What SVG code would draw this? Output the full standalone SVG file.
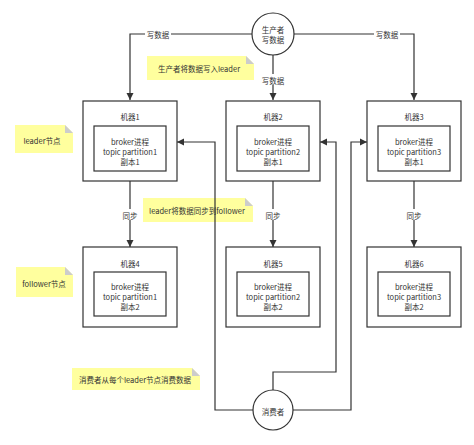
<svg xmlns="http://www.w3.org/2000/svg" width="474" height="445" viewBox="0 0 474 445">
<style>
text{font-family:"Noto Sans CJK SC","Liberation Sans",sans-serif;font-size:7.5px;fill:#333;text-anchor:middle;dominant-baseline:central}
.box{fill:#fff;stroke:#333;stroke-width:1.2}
.circ{fill:#fff;stroke:#333;stroke-width:1.2}
.ln{fill:none;stroke:#333;stroke-width:1.2}
.note{fill:#ffff9e}
.fold{fill:#ccc}
.lbl{fill:#fff}
</style>
<defs>
<marker id="arr" markerWidth="8" markerHeight="8" refX="7" refY="4" orient="auto" markerUnits="userSpaceOnUse">
<path d="M0,0.5 L7,4 L0,7.5 Z" fill="#333"/>
</marker>
</defs>
<g id="note-sync">
<path class="note" d="M143,198 H245 L253,206 V222 H143 Z"/>
<path class="fold" d="M245,198 L253,206 H245 Z"/>
<text x="197" y="210">leader将数据同步到follower</text>
</g>
<g id="connectors">
<path class="ln" d="M252,34 H130 V100" marker-end="url(#arr)"/>
<path class="ln" d="M294,34 H414 V100" marker-end="url(#arr)"/>
<path class="ln" d="M273,55 V100" marker-end="url(#arr)"/>
<path class="ln" d="M130,181 V247" marker-end="url(#arr)"/>
<path class="ln" d="M273,181 V247" marker-end="url(#arr)"/>
<path class="ln" d="M414,181 V247" marker-end="url(#arr)"/>
<path class="ln" d="M253,410 H215 V142 H177" marker-end="url(#arr)"/>
<path class="ln" d="M273,390 V372 H336 V142 H320" marker-end="url(#arr)"/>
<path class="ln" d="M293,410 H351 V142 H367" marker-end="url(#arr)"/>
<rect class="lbl" x="145" y="28" width="26" height="11"/>
<text x="158" y="34">写数据</text>
<rect class="lbl" x="374" y="28" width="26" height="11"/>
<text x="387" y="34">写数据</text>
<rect class="lbl" x="260" y="74" width="26" height="11"/>
<text x="273" y="80">写数据</text>
<rect class="lbl" x="120" y="209" width="20" height="11"/>
<text x="130" y="215">同步</text>
<rect class="lbl" x="263" y="209" width="20" height="11"/>
<text x="273" y="215">同步</text>
<rect class="lbl" x="404" y="209" width="20" height="11"/>
<text x="414" y="215">同步</text>
</g>
<g id="producer">
<circle class="circ" cx="273" cy="34" r="21"/>
<text x="273" y="29">生产者</text>
<text x="273" y="39">写数据</text>
</g>
<g id="consumer">
<circle class="circ" cx="273" cy="410" r="20"/>
<text x="273" y="411">消费者</text>
</g>
<g id="machine1">
<rect class="box" x="83" y="101" width="94" height="80"/>
<text x="130" y="116">机器1</text>
<rect class="box" x="94" y="126" width="72" height="45"/>
<text x="130" y="141">broker进程</text>
<text x="130" y="151">topic partition1</text>
<text x="130" y="161">副本1</text>
</g>
<g id="machine2">
<rect class="box" x="226" y="101" width="94" height="80"/>
<text x="273" y="116">机器2</text>
<rect class="box" x="237" y="126" width="72" height="45"/>
<text x="273" y="141">broker进程</text>
<text x="273" y="151">topic partition2</text>
<text x="273" y="161">副本1</text>
</g>
<g id="machine3">
<rect class="box" x="367" y="101" width="94" height="80"/>
<text x="414" y="116">机器3</text>
<rect class="box" x="378" y="126" width="72" height="45"/>
<text x="414" y="141">broker进程</text>
<text x="414" y="151">topic partition3</text>
<text x="414" y="161">副本1</text>
</g>
<g id="machine4">
<rect class="box" x="83" y="247" width="94" height="80"/>
<text x="130" y="263">机器4</text>
<rect class="box" x="94" y="272" width="72" height="44"/>
<text x="130" y="286">broker进程</text>
<text x="130" y="296">topic partition1</text>
<text x="130" y="306">副本2</text>
</g>
<g id="machine5">
<rect class="box" x="226" y="247" width="94" height="80"/>
<text x="273" y="263">机器5</text>
<rect class="box" x="237" y="272" width="72" height="44"/>
<text x="273" y="286">broker进程</text>
<text x="273" y="296">topic partition2</text>
<text x="273" y="306">副本2</text>
</g>
<g id="machine6">
<rect class="box" x="367" y="247" width="94" height="80"/>
<text x="414" y="263">机器6</text>
<rect class="box" x="378" y="272" width="72" height="44"/>
<text x="414" y="286">broker进程</text>
<text x="414" y="296">topic partition3</text>
<text x="414" y="306">副本2</text>
</g>
<g id="note-producer">
<path class="note" d="M147,56 H246 L254,64 V80 H147 Z"/>
<path class="fold" d="M246,56 L254,64 H246 Z"/>
<text x="199" y="68">生产者将数据写入leader</text>
</g>
<g id="note-leader">
<path class="note" d="M15,125 H65 L73,133 V153 H15 Z"/>
<path class="fold" d="M65,125 L73,133 H65 Z"/>
<text x="42" y="140">leader节点</text>
</g>
<g id="note-follower">
<path class="note" d="M16,267 H65 L73,275 V297 H16 Z"/>
<path class="fold" d="M65,267 L73,275 H65 Z"/>
<text x="44" y="283">follower节点</text>
</g>
<g id="note-consumer">
<path class="note" d="M72,368 H192 L200,376 V390 H72 Z"/>
<path class="fold" d="M192,368 L200,376 H192 Z"/>
<text x="135" y="379">消费者从每个leader节点消费数据</text>
</g>
</svg>
